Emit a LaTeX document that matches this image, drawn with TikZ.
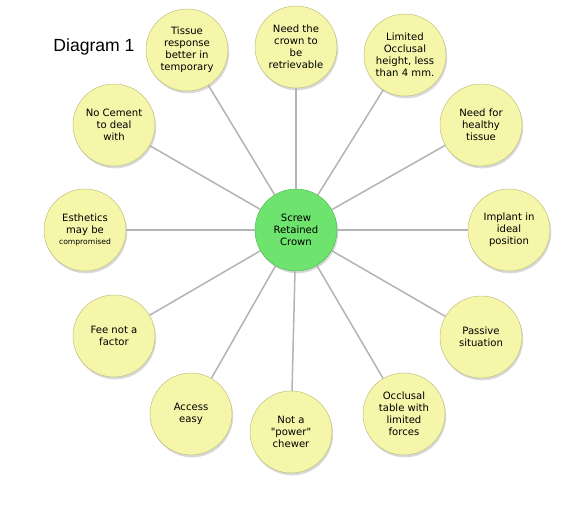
\documentclass[tikz,border=0pt]{standalone}
\usepackage{fontspec}
\setmainfont{DejaVu Sans}[Ligatures=TeXOff]
\newfontfamily\titlefont{Liberation Sans}
\usetikzlibrary{shadows}

\definecolor{bubblefill}{HTML}{F6F6AA}
\definecolor{bubbleedge}{HTML}{BDBD7A}
\definecolor{hubfill}{HTML}{6EE46E}
\definecolor{hubedge}{HTML}{4FB84F}
\definecolor{spokegray}{HTML}{B4B4B4}

\begin{document}
\begin{tikzpicture}[x=0.03cm, y=-0.03cm, bubble/.style={circle, draw=bubbleedge, fill=bubblefill, minimum size=2.46cm, inner sep=0pt, align=center, font=\fontsize{8.6}{10.2}\selectfont, drop shadow={shadow xshift=1pt, shadow yshift=-2pt, opacity=0.3}}, hub/.style={bubble, fill=hubfill, draw=hubedge}]
\useasboundingbox (0,0) rectangle (577,527);

% title
\node[font=\titlefont\fontsize{15}{18}\selectfont] (title) at (94,47) {Diagram 1};

% hub
\node[hub] (center) at (296,230) {Screw\\Retained\\Crown};

% ring of reasons, clockwise from the top
\node[bubble] (retrieve) at (296,47) {Need the\\crown to\\be\\retrievable};
\node[bubble] (height) at (405,55) {Limited\\Occlusal\\height, less\\than 4 mm.};
\node[bubble] (healthy) at (481,125) {Need for\\healthy\\tissue};
\node[bubble] (implant) at (509,230) {Implant in\\ideal\\position};
\node[bubble] (passive) at (481,337) {Passive\\situation};
\node[bubble] (table) at (404,414) {Occlusal\\table with\\limited\\forces};
\node[bubble] (chewer) at (291,432) {Not a\\"power"\\chewer};
\node[bubble] (access) at (191,414) {Access\\easy};
\node[bubble] (fee) at (114,336) {Fee not a\\factor};
\node[bubble] (esthetic) at (85,230) {Esthetics\\may be\\{\fontsize{6.5}{8}\selectfont compromised}};
\node[bubble] (cement) at (114,125) {No Cement\\to deal\\with};
\node[bubble] (tissue) at (187,50) {Tissue\\response\\better in\\temporary};

% spokes
\begin{scope}[draw=spokegray, line width=1.3pt]
\draw (center) -- (retrieve);
\draw (center) -- (height);
\draw (center) -- (healthy);
\draw (center) -- (implant);
\draw (center) -- (passive);
\draw (center) -- (table);
\draw (center) -- (chewer);
\draw (center) -- (access);
\draw (center) -- (fee);
\draw (center) -- (esthetic);
\draw (center) -- (cement);
\draw (center) -- (tissue);
\end{scope}
\end{tikzpicture}
\end{document}
